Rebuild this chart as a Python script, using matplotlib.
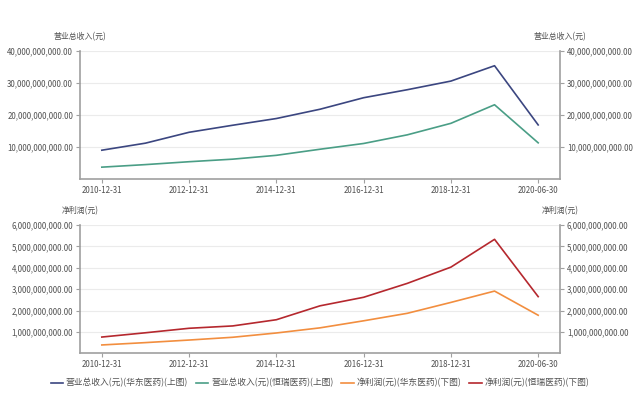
import matplotlib
matplotlib.use("Agg")
import matplotlib.pyplot as plt
from matplotlib.ticker import FuncFormatter, FixedLocator

plt.rcParams['font.family'] = ['Noto Sans CJK SC', 'DejaVu Sans']

dates = ["2010-12-31", "2011-12-31", "2012-12-31", "2013-12-31", "2014-12-31",
         "2015-12-31", "2016-12-31", "2017-12-31", "2018-12-31", "2019-12-31",
         "2020-06-30"]
rev_huadong = [9.0e9, 11.2e9, 14.6e9, 16.8e9, 18.9e9, 21.8e9, 25.4e9, 27.9e9, 30.6e9, 35.4e9, 16.9e9]
rev_hengrui = [3.7e9, 4.5e9, 5.4e9, 6.2e9, 7.4e9, 9.3e9, 11.1e9, 13.8e9, 17.4e9, 23.2e9, 11.3e9]
np_huadong = [0.39e9, 0.50e9, 0.62e9, 0.75e9, 0.95e9, 1.19e9, 1.52e9, 1.87e9, 2.38e9, 2.91e9, 1.78e9]
np_hengrui = [0.76e9, 0.96e9, 1.17e9, 1.28e9, 1.57e9, 2.22e9, 2.62e9, 3.27e9, 4.03e9, 5.33e9, 2.65e9]

labels = ["营业总收入(元)(华东医药)(上图)", "营业总收入(元)(恒瑞医药)(上图)",
          "净利润(元)(华东医药)(下图)", "净利润(元)(恒瑞医药)(下图)"]
colors = ["#3b4680", "#4a9e86", "#f28e3f", "#b5282e"]

top_ticks = [1e10, 2e10, 3e10, 4e10]
bot_ticks = [1e9, 2e9, 3e9, 4e9, 5e9, 6e9]

W, H = 640, 404
fig = plt.figure(figsize=(W / 100, H / 100), dpi=100)

fmt = FuncFormatter(lambda v, p: f"{v:,.2f}")
txt_color = "#505050"
axis_color = "#a0a0a0"
fs = 5.7

def setup(ax, ymax, yticks, name):
    x = list(range(len(dates)))
    ax.set_xlim(-0.5, len(dates) - 0.5)
    ax.set_ylim(0, ymax)
    ax.yaxis.set_major_locator(FixedLocator(yticks))
    ax.yaxis.set_major_formatter(fmt)
    ticks = x[::2] + [len(dates) - 1] if (len(dates) - 1) % 2 else x[::2]
    ax.set_xticks(ticks)
    ax.set_xticklabels([dates[i] for i in ticks])
    ax.grid(axis='y', color='#ebebeb', linewidth=0.8)
    ax.set_axisbelow(True)
    ax.spines['top'].set_visible(False)
    for s in ['left', 'right', 'bottom']:
        ax.spines[s].set_color(axis_color)
        ax.spines[s].set_linewidth(1.2)
    ax.tick_params(axis='both', labelsize=fs, colors=axis_color, labelcolor=txt_color,
                   length=3, width=0.8, pad=2)
    ax.tick_params(axis='y', right=True, labelright=True, left=True, labelleft=True)
    ax.text(0, 1.11, name, transform=ax.transAxes, ha='center', va='center',
            fontsize=fs, color=txt_color)
    ax.text(1, 1.11, name, transform=ax.transAxes, ha='center', va='center',
            fontsize=fs, color=txt_color)
    return x

ax1 = fig.add_axes([80 / W, 1 - 179 / H, 480 / W, 128 / H])
x = setup(ax1, 4e10, top_ticks, "营业总收入(元)")
l1, = ax1.plot(x, rev_huadong, color=colors[0], lw=1.2)
l2, = ax1.plot(x, rev_hengrui, color=colors[1], lw=1.2)

ax2 = fig.add_axes([80 / W, 1 - 353.3 / H, 480 / W, 128.3 / H])
x = setup(ax2, 6e9, bot_ticks, "净利润(元)")
l3, = ax2.plot(x, np_huadong, color=colors[2], lw=1.2)
l4, = ax2.plot(x, np_hengrui, color=colors[3], lw=1.2)

fig.legend([l1, l2, l3, l4], labels, loc='center', bbox_to_anchor=(0.5, 1 - 383 / H),
           ncol=4, frameon=False, fontsize=6.3, handlelength=1.4, handletextpad=0.35,
           columnspacing=0.9, labelcolor=txt_color)

fig.savefig("out.png", dpi=100, facecolor='white')
